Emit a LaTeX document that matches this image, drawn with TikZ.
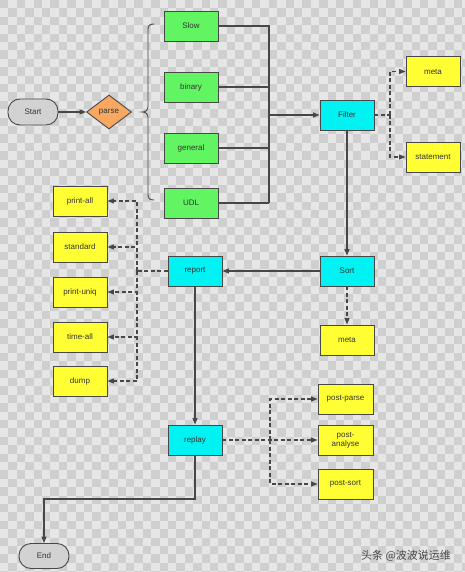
\documentclass[tikz,border=0pt]{standalone}
\usepackage{fontspec}
\setmainfont{Liberation Sans}
\newfontfamily\cjkf{Noto Sans CJK SC}
\usetikzlibrary{arrows.meta,shapes.geometric}
\definecolor{chkA}{HTML}{E6E6E6}
\definecolor{chkB}{HTML}{CFCFCF}
\definecolor{lnC}{HTML}{474747}
\definecolor{txC}{HTML}{333333}
\definecolor{grnC}{HTML}{62F562}
\definecolor{cyC}{HTML}{00F2F2}
\definecolor{ylC}{HTML}{FFFF33}
\definecolor{orC}{HTML}{F8A860}
\definecolor{termC}{HTML}{D2D2D2}
\tikzset{
  base/.style={draw=lnC, line width=0.9pt, text=txC, font=\fontsize{8}{9}\selectfont, align=center, inner sep=1pt},
  gbox/.style={base, rectangle, fill=grnC, minimum width=54pt, minimum height=30pt},
  cbox/.style={base, rectangle, fill=cyC, minimum width=54pt, minimum height=30pt},
  ybox/.style={base, rectangle, fill=ylC, minimum width=54pt, minimum height=30pt},
  term/.style={base, rectangle, rounded corners=12pt, fill=termC, minimum width=50pt, minimum height=26pt},
  dec/.style={base, diamond, fill=orC, minimum width=45pt, minimum height=34pt, inner sep=0pt},
  ln/.style={draw=lnC, line width=1.1pt},
  arr/.style={ln, -{Triangle[length=6.5pt,width=5pt]}},
  dsh/.style={ln, dash pattern=on 4pt off 2.5pt},
}
\begin{document}
\begin{tikzpicture}[x=1pt,y=-1pt]
\useasboundingbox (0,0) rectangle (465,572);
\begin{scope}
\clip (0,0) rectangle (465,572);
\fill[chkA] (0,0) rectangle (465,572);
\foreach \i in {0,2,...,56}{
  \foreach \j in {0,2,...,68}{
    \fill[chkB] ({\i*8.4},{\j*8.4}) rectangle ++(8.4,8.4);
    \fill[chkB] ({(\i+1)*8.4},{(\j+1)*8.4}) rectangle ++(8.4,8.4);
  }
}
\end{scope}

% nodes
\node[term] (start) at (33,112) {Start};
\node[dec] (parse) at (109,112) {parse};
\node[gbox] (slow) at (191,26) {Slow};
\node[gbox] (binary) at (191,87) {binary};
\node[gbox] (general) at (191,148) {general};
\node[gbox] (udl) at (191,203) {UDL};
\node[cbox] (filter) at (347,115) {Filter};
\node[ybox] (meta1) at (433,71.5) {meta};
\node[ybox] (statement) at (433,157) {statement};
\node[cbox] (sort) at (347,271) {Sort};
\node[ybox] (meta2) at (347,340) {meta};
\node[cbox] (report) at (195,271) {report};
\node[ybox] (printall) at (80,201) {print-all};
\node[ybox] (standard) at (80,247) {standard};
\node[ybox] (printuniq) at (80,292) {print-uniq};
\node[ybox] (timeall) at (80,337) {time-all};
\node[ybox] (dump) at (80,381) {dump};
\node[cbox] (replay) at (195,440) {replay};
\node[ybox, minimum width=55pt] (postparse) at (345.5,399) {post-parse};
\node[ybox, minimum width=55pt] (postanalyse) at (345.5,440) {post-\\analyse};
\node[ybox, minimum width=55pt] (postsort) at (345.5,484) {post-sort};
\node[term, minimum height=25pt] (end) at (44,556) {End};

\node[font=\cjkf\fontsize{11}{12}\selectfont, text=lnC] (wm) at (406,556) {头条 @波波说运维};

% coordinates
\coordinate (bus) at (269,115);
\coordinate (fb) at (390,115);
\coordinate (rb) at (137,271);
\coordinate (rk) at (44,499);
\coordinate (pb) at (270,440);

% brace
\draw[ln, line width=0.9pt] (154,24) .. controls (149,24) and (148,26) .. (148,30)
  -- (148,106) .. controls (148,110) and (146,112) .. (142,112)
  .. controls (146,112) and (148,114) .. (148,118)
  -- (148,194) .. controls (148,198) and (149,200) .. (154,200);

% connectors
\draw[arr] (start) -- (parse);
\draw[ln] (slow.east) -- (slow.east -| bus) -- (udl.east -| bus);
\draw[ln] (binary.east) -- (binary.east -| bus);
\draw[ln] (general.east) -- (general.east -| bus);
\draw[ln] (udl.east) -- (udl.east -| bus);
\draw[arr] (bus) -- (filter);

\draw[dsh] (filter) -- (fb);
\draw[dsh, arr] (fb) |- (meta1);
\draw[dsh, arr] (fb) |- (statement);

\draw[arr] (filter) -- (sort);
\draw[dsh, arr] (sort) -- (meta2);
\draw[arr] (sort) -- (report);

\draw[dsh] (report) -- (rb);
\draw[dsh, arr] (rb) |- (printall);
\draw[dsh, arr] (rb) |- (standard);
\draw[dsh, arr] (rb) |- (printuniq);
\draw[dsh, arr] (rb) |- (timeall);
\draw[dsh, arr] (rb) |- (dump);

\draw[arr] (report) -- (replay);
\draw[arr] (replay.south) |- (rk) -- (end);

\draw[dsh, arr] (replay) -- (postanalyse);
\draw[dsh, arr] (pb) |- (postparse);
\draw[dsh, arr] (pb) |- (postsort);
\end{tikzpicture}
\end{document}
